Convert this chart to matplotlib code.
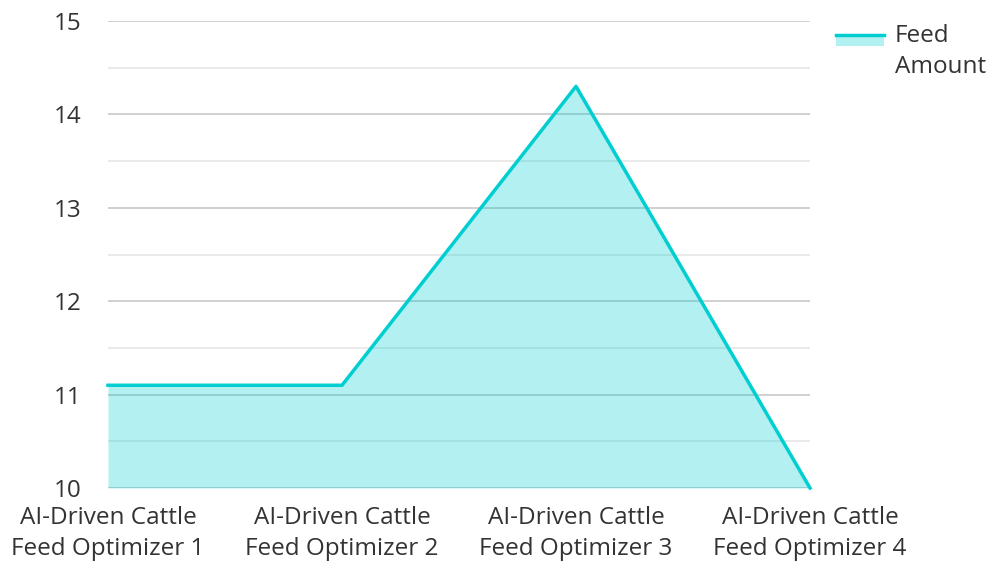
import matplotlib
matplotlib.use("Agg")
import matplotlib.pyplot as plt
from matplotlib.patches import Rectangle
from matplotlib.lines import Line2D
from matplotlib.legend_handler import HandlerBase
from matplotlib.ticker import MultipleLocator

plt.rcParams['font.family'] = ['Open Sans', 'DejaVu Sans']

categories = ['AI-Driven Cattle\nFeed Optimizer 1', 'AI-Driven Cattle\nFeed Optimizer 2',
              'AI-Driven Cattle\nFeed Optimizer 3', 'AI-Driven Cattle\nFeed Optimizer 4']
feed_amount = [11.1, 11.1, 14.3, 10.0]

line_color = '#00CED1'
fill_alpha = 0.3


class AreaHandler(HandlerBase):
    # filled box with the line along its top edge, sitting beside the first text line
    def create_artists(self, legend, orig_handle, xdescent, ydescent,
                       width, height, fontsize, trans):
        bottom = 0.62 * fontsize
        top = 1.07 * fontsize
        rect = Rectangle((-xdescent, bottom), width, top - bottom, facecolor=line_color,
                         alpha=fill_alpha, edgecolor='none', transform=trans)
        line = Line2D([-xdescent, -xdescent + width], [top, top],
                      color=line_color, linewidth=2.5, transform=trans)
        return [rect, line]


fig = plt.figure(figsize=(9.92, 5.62), dpi=100)
ax = fig.add_axes([108/992, 1 - 488/562, (810 - 108)/992, (488 - 21)/562])

x = list(range(len(categories)))
ax.fill_between(x, 10, feed_amount, color=line_color, alpha=fill_alpha, linewidth=0, zorder=2)
ax.plot(x, feed_amount, color=line_color, linewidth=2.5, zorder=3, clip_on=False)

ax.set_xlim(0, len(categories) - 1)
ax.set_ylim(10, 15)
ax.yaxis.set_major_locator(MultipleLocator(1))
ax.yaxis.set_minor_locator(MultipleLocator(0.5))
ax.set_axisbelow(True)
ax.grid(which='major', axis='y', color='#c8c8c8', linewidth=1.2)
ax.grid(which='minor', axis='y', color='#e6e6e6', linewidth=1.2)

ax.set_xticks(x)
ax.set_xticklabels(categories, linespacing=1.4)
ax.tick_params(axis='both', length=0, labelsize=17.5, colors='#333333')
ax.tick_params(axis='y', pad=19)
ax.tick_params(axis='x', pad=13)
ax.tick_params(which='minor', length=0)
for s in ax.spines.values():
    s.set_visible(False)

leg = fig.legend([object()], ['Feed\nAmount'], handler_map={object: AreaHandler()},
                 loc='upper left', bbox_to_anchor=(836/992, 1 - 24/562), borderpad=0,
                 borderaxespad=0, frameon=False, fontsize=17.5, handlelength=1.97,
                 handleheight=0.55, handletextpad=0.45, labelcolor='#333333')
leg.get_texts()[0].set_linespacing(1.4)

fig.savefig('out.png', dpi=100)
